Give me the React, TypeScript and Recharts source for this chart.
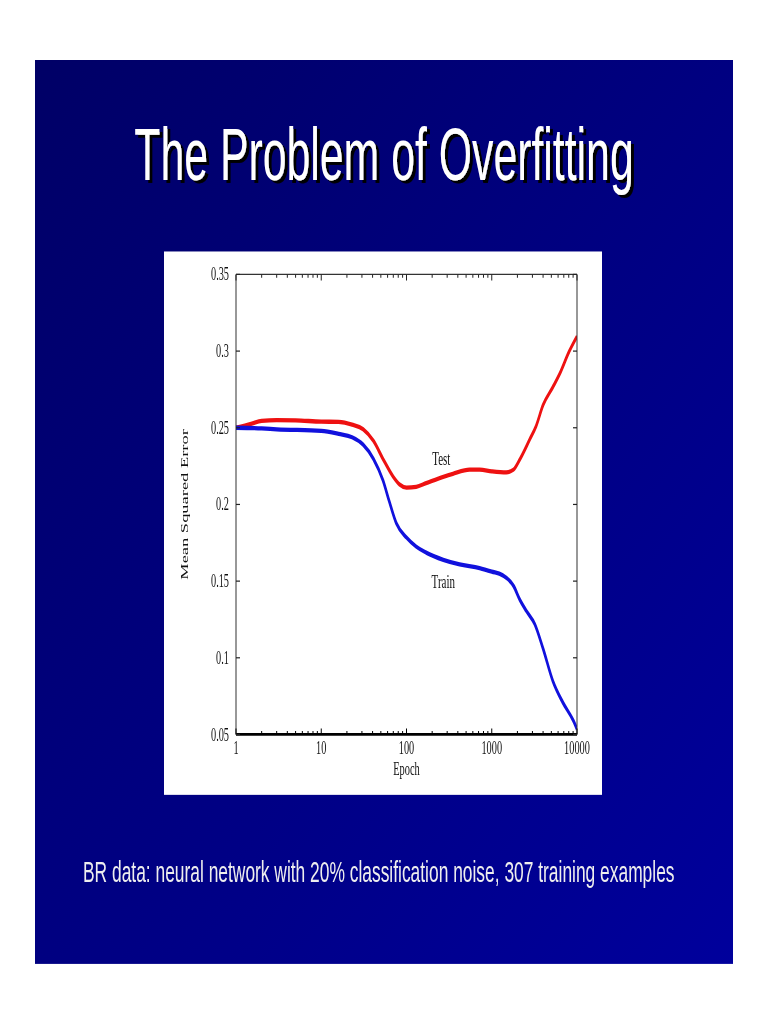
import React from 'react';
import { LineChart, Line, XAxis, YAxis, ReferenceDot, Label } from 'recharts';

// values (epochs on a log axis)
const testEpochs = [1, 1.5, 2, 3, 5, 10, 16, 23, 31, 41, 53, 70, 83, 100, 130, 170, 270, 350, 550, 720, 1000, 1480, 1800, 2150, 2800, 3300, 4000, 5200, 6200, 8100, 10000];
const testError = [0.25, 0.2525, 0.2545, 0.255, 0.2548, 0.254, 0.2538, 0.252, 0.249, 0.2414, 0.2297, 0.218, 0.213, 0.211, 0.2115, 0.2139, 0.218, 0.22, 0.2227, 0.2227, 0.2216, 0.2209, 0.2227, 0.2297, 0.2426, 0.2508, 0.2648, 0.2764, 0.2846, 0.2998, 0.3096];

const trainEpochs = [1, 2, 3, 10, 16, 23, 31, 41, 53, 63, 76, 100, 130, 170, 270, 420, 720, 1000, 1330, 1800, 2150, 2550, 3200, 4000, 5200, 6800, 9000, 10000];
const trainError = [0.25, 0.2496, 0.249, 0.248, 0.246, 0.2438, 0.239, 0.2297, 0.2157, 0.2017, 0.1877, 0.1784, 0.1725, 0.1686, 0.1639, 0.1609, 0.1585, 0.1562, 0.1539, 0.1469, 0.1375, 0.1305, 0.1219, 0.106, 0.085, 0.071, 0.0593, 0.0535];

const decadeTicks = [1, 10, 100, 1000, 10000];
const minorSteps = [2, 3, 4, 5, 6, 7, 8, 9];
const errorTicks = [0.05, 0.1, 0.15, 0.2, 0.25, 0.3, 0.35];
const errorTickLabels = ['0.05', '0.1', '0.15', '0.2', '0.25', '0.3', '0.35'];

const curveLabels = [
  { text: 'Test', epoch: 256, error: 0.23 },
  { text: 'Train', epoch: 270, error: 0.15 },
];

const epochTicks = decadeTicks.flatMap((d) => (d < 10000 ? [d, ...minorSteps.map((k) => k * d)] : [d]));
const testData = testEpochs.map((x, i) => ({ x, y: testError[i] }));
const trainData = trainEpochs.map((x, i) => ({ x, y: trainError[i] }));

// the slide was a 4:3 page stretched to portrait, so everything is drawn flat and scaled
const STRETCH = 1.725;
const serif = '"Liberation Serif", "Times New Roman", serif';
const sans = '"Liberation Sans", Arial, sans-serif';

const BottomTick = (props: any) => {
  const { x, y, payload } = props;
  const major = decadeTicks.includes(payload.value);
  return (
    <g>
      <line x1={x} x2={x} y1={y} y2={y - (major ? 3.5 : 2)} stroke="#000" strokeWidth={1} />
      {major && (
        <text x={x} y={y + 11.6} textAnchor="middle" fontSize={10.3} fontFamily={serif} fill="#111">
          {payload.value}
        </text>
      )}
    </g>
  );
};

const TopTick = (props: any) => {
  const { x, y, payload } = props;
  const major = decadeTicks.includes(payload.value);
  return <line x1={x} x2={x} y1={y} y2={y + (major ? 3.5 : 2)} stroke="#222" strokeWidth={1} />;
};

const LeftTick = (props: any) => {
  const { x, y, payload } = props;
  const idx = errorTicks.indexOf(payload.value);
  return (
    <g>
      <line x1={x} x2={x + 4} y1={y} y2={y} stroke="#222" strokeWidth={0.7} />
      <text x={x - 7} y={y} dy="0.34em" textAnchor="end" fontSize={10.3} fontFamily={serif} fill="#111">
        {idx >= 0 ? errorTickLabels[idx] : String(payload.value)}
      </text>
    </g>
  );
};

const RightTick = (props: any) => {
  const { x, y } = props;
  return <line x1={x} x2={x - 4} y1={y} y2={y} stroke="#222" strokeWidth={0.7} />;
};

export default function App() {
  return (
    <div
      style={{
        position: 'absolute',
        left: 35,
        top: 60,
        width: 698,
        height: 523.5,
        transform: `scaleY(${STRETCH})`,
        transformOrigin: '0 0',
        background: 'linear-gradient(to bottom right, #000066, #00009c)',
      }}
    >
      <svg width={698} height={523.5} style={{ position: 'absolute', left: 0, top: 0 }}>
        <defs>
          <filter id="titleShadow" x="-5%" y="-20%" width="110%" height="140%">
            <feDropShadow dx={3} dy={1.7} stdDeviation={0.3} floodColor="#000" floodOpacity={1} />
          </filter>
        </defs>
        <text x={349} y={69.6} textAnchor="middle" fontSize={42.8} fontFamily={sans} fill="#fff" filter="url(#titleShadow)">
          The Problem of Overfitting
        </text>
        <text x={48} y={476.5} fontSize={17.4} fontFamily={sans} fill="#eeeeee">
          BR data: neural network with 20% classification noise, 307 training examples
        </text>
      </svg>

      <div style={{ position: 'absolute', left: 129, top: 111.3, width: 438, height: 315, background: '#fff' }}>
        <LineChart width={438} height={315} margin={{ top: 12.3, right: 24, bottom: 0, left: 0 }}>
          <XAxis
            dataKey="x"
            type="number"
            scale="log"
            domain={[1, 10000]}
            ticks={epochTicks}
            interval={0}
            tickSize={0}
            tickMargin={0}
            tickLine={false}
            tick={BottomTick}
            axisLine={{ stroke: '#000', strokeWidth: 1.6 }}
            height={35}
            allowDataOverflow
          >
            <Label value="Epoch" position="center" dy={2.5} style={{ fontFamily: serif, fontSize: 10.4, fill: '#111' }} />
          </XAxis>
          <XAxis
            xAxisId="top"
            orientation="top"
            dataKey="x"
            type="number"
            scale="log"
            domain={[1, 10000]}
            ticks={epochTicks}
            interval={0}
            tickSize={0}
            tickMargin={0}
            tickLine={false}
            tick={TopTick}
            axisLine={{ stroke: '#333', strokeWidth: 0.7 }}
            height={1}
            allowDataOverflow
          />
          <YAxis
            type="number"
            domain={[0.05, 0.35]}
            ticks={errorTicks}
            interval={0}
            tickSize={0}
            tickMargin={0}
            tickLine={false}
            tick={LeftTick}
            axisLine={{ stroke: '#333', strokeWidth: 1 }}
            width={72}
            allowDataOverflow
          >
            <Label
              value="Mean Squared Error"
              position="center"
              angle={-90}
              dx={-16}
              style={{ fontFamily: serif, fontSize: 10.7, fill: '#111' }}
            />
          </YAxis>
          <YAxis
            yAxisId="right"
            orientation="right"
            type="number"
            domain={[0.05, 0.35]}
            ticks={errorTicks}
            interval={0}
            tickSize={0}
            tickMargin={0}
            tickLine={false}
            tick={RightTick}
            axisLine={{ stroke: '#333', strokeWidth: 1 }}
            width={1}
            allowDataOverflow
          />
          <Line
            data={testData}
            dataKey="y"
            type="monotone"
            stroke="#ee1111"
            strokeWidth={2.5}
            dot={false}
            isAnimationActive={false}
          />
          <Line
            data={trainData}
            dataKey="y"
            type="monotone"
            stroke="#1111dd"
            strokeWidth={2.5}
            dot={false}
            isAnimationActive={false}
          />
          {curveLabels.map((c) => (
            <ReferenceDot key={c.text} x={c.epoch} y={c.error} r={0} fill="none" stroke="none">
              <Label value={c.text} position="center" style={{ fontFamily: serif, fontSize: 11, fill: '#111' }} />
            </ReferenceDot>
          ))}
        </LineChart>
      </div>
    </div>
  );
}
